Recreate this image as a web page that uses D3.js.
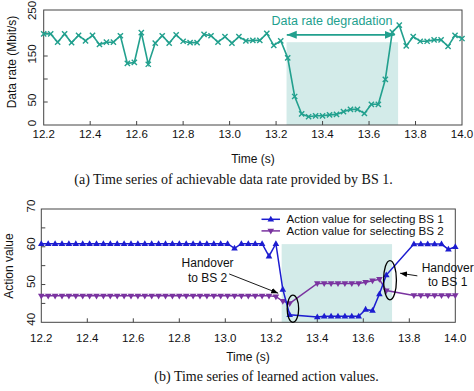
<!DOCTYPE html>
<html><head><meta charset="utf-8">
<script src="https://cdn.jsdelivr.net/npm/d3@7"></script>
<style>body{margin:0;background:#fff}svg{display:block}</style>
</head><body>
<script>
// ---------- data ----------
const rateTimes = [12.20,12.23,12.26,12.29,12.32,12.35,12.38,12.41,12.44,12.47,12.50,12.53,12.56,12.59,12.62,12.65,12.68,12.71,12.74,12.77,
  12.80,12.83,12.86,12.89,12.92,12.95,12.98,13.01,13.04,13.07,13.10,13.13,13.16,13.19,13.22,13.25,13.28,13.31,13.34,13.37,
  13.40,13.43,13.46,13.49,13.52,13.55,13.58,13.61,13.64,13.67,13.70,13.73,13.76,13.79,13.82,13.85,13.88,13.91,13.94,13.97,14.00];
const rateValues = [198,198,180,198,179,195,183,195,175,180,180,194,134,136,201,132,178,194,178,196,
  182,179,179,197,194,180,192,178,192,183,184,184,199,173,183,146,62,24,18,20,
  20,22,23,29,34,34,25,45,45,99,202,217,172,192,182,182,185,185,171,195,188];
const rateTicksY = [0,50,100,150,200,250];
const rateTickLabelsY = [0,50,150,250];
const timeTicks = [12.2,12.4,12.6,12.8,13.0,13.2,13.4,13.6,13.8,14.0];
const degradation = [13.245, 13.725];   // shaded interval (s)
const degradationTop = 180;            // Mbit/s
const arrowSpan = [13.246, 13.71]; const arrowLevel = 196;

const actTimes = [12.20,12.23,12.26,12.29,12.32,12.35,12.38,12.41,12.44,12.47,12.50,12.53,12.56,12.59,12.62,12.65,12.68,12.71,12.74,12.77,
  12.80,12.83,12.86,12.89,12.92,12.95,12.98,13.01,13.04,13.07,13.10,13.13,13.16,13.19,13.22,13.25,13.28,
  13.40,13.43,13.46,13.49,13.52,13.55,13.58,13.61,13.64,13.67,13.70,
  13.82,13.85,13.88,13.91,13.94,13.97,14.00];
const bs1Values = [60.8,60.8,60.8,60.8,60.8,60.8,60.8,60.8,60.8,60.8,60.8,60.8,60.8,60.8,60.8,60.8,60.8,60.8,60.8,60.8,
  60.8,60.8,60.8,60.8,60.8,60.8,60.8,60.8,59.6,60.8,60.8,60.8,60.8,57.5,60.8,48.7,42.0,
  41.4,41.6,41.6,41.6,41.6,41.6,41.6,43.4,43.1,47.5,52.5,
  60.7,60.7,60.7,60.7,60.7,59.3,60.0];
const bs2Values = [47.0,47.0,47.0,47.0,47.0,47.0,47.0,47.0,47.0,47.0,47.0,47.0,47.0,47.0,47.0,47.0,47.0,47.0,47.0,47.0,
  47.0,47.0,47.0,47.0,47.0,47.0,47.0,47.0,47.0,47.0,47.0,47.0,47.0,47.0,46.8,45.6,45.0,
  50.3,50.3,50.3,50.3,50.3,50.3,50.3,50.6,51.0,51.4,48.4,
  47.1,47.1,47.1,47.1,47.1,47.1,47.1];
const actTicksY = [45,50,55,60,65];
const actTickLabelsY = [40,50,60,70];
const actShadeTop = 60.7;
const seriesNames = ["Action value for selecting BS 1","Action value for selecting BS 2"];
const handovers = [ {t:13.294, v:43.6, rt:0.025, rv:3.6}, {t:13.716, v:51.15, rt:0.028, rv:5.2} ];

// ---------- setup ----------
const W = 474, H = 391;
const sans = "'Liberation Sans', Arial, sans-serif";
const serif = "'Liberation Serif', 'Times New Roman', serif";
const teal = "#22a08e", shade = "#d3ebe9", blue = "#1c1cd0", purple = "#7a33a0", axisCol = "#444";

const svg = d3.select("body").append("svg").attr("width", W).attr("height", H);
const defs = svg.append("defs");
defs.append("marker").attr("id", "headTeal").attr("viewBox","0 0 10 10").attr("refX",10).attr("refY",5)
    .attr("markerWidth",10).attr("markerHeight",10).attr("markerUnits","userSpaceOnUse").attr("orient","auto-start-reverse")
    .append("path").attr("d","M0,1L10,5L0,9Z").attr("fill",teal);
defs.append("marker").attr("id","headBlack").attr("viewBox","0 0 10 10").attr("refX",10).attr("refY",5)
    .attr("markerWidth",7).attr("markerHeight",7).attr("markerUnits","userSpaceOnUse").attr("orient","auto")
    .append("path").attr("d","M0,1L10,5L0,9Z").attr("fill","#000");

// ---------- panel (a) ----------
const xa = d3.scaleLinear().domain([12.2,14.0]).range([43.7,462]);
const ya = d3.scaleLinear().domain([0,250]).range([125,10]);
const ga = svg.append("g");

ga.append("rect").attr("x", xa(degradation[0])).attr("y", ya(degradationTop))
  .attr("width", xa(degradation[1])-xa(degradation[0])).attr("height", ya(0)-ya(degradationTop)).attr("fill", shade);

ga.append("rect").attr("x",xa(12.2)).attr("y",ya(250)).attr("width",xa(14)-xa(12.2)).attr("height",ya(0)-ya(250))
  .attr("fill","none").attr("stroke",axisCol).attr("stroke-width",1);

ga.selectAll(".xt").data(timeTicks.slice(1,-1)).join("line")
  .attr("x1",d=>xa(d)).attr("x2",d=>xa(d)).attr("y1",ya(0)).attr("y2",ya(0)-4).attr("stroke",axisCol);
ga.selectAll(".yt").data(rateTicksY.slice(1,-1)).join("line")
  .attr("x1",xa(12.2)).attr("x2",xa(12.2)+4).attr("y1",d=>ya(d)).attr("y2",d=>ya(d)).attr("stroke",axisCol);

ga.selectAll(".xl").data(timeTicks).join("text").attr("x",d=>xa(d)).attr("y",138)
  .attr("text-anchor","middle").attr("font-family",sans).attr("font-size","11.5px").attr("fill","#111")
  .text(d=>d.toFixed(1));
ga.selectAll(".yl").data(rateTickLabelsY).join("text")
  .attr("transform",d=>`translate(36,${Math.max(10.5, ya(d)-2)}) rotate(-90)`)
  .attr("text-anchor","middle").attr("font-family",sans).attr("font-size","11.5px").attr("fill","#111").text(d=>d);
ga.append("text").attr("x",253).attr("y",163).attr("text-anchor","middle").attr("font-family",sans)
  .attr("font-size","12px").attr("fill","#111").text("Time (s)");
ga.append("text").attr("transform","translate(16,62) rotate(-90)").attr("text-anchor","middle").attr("font-family",sans)
  .attr("font-size","12px").attr("fill","#111").text("Data rate (Mbit/s)");

const rateData = rateTimes.map((t,i)=>({t, v: rateValues[i]}));
ga.append("path").datum(rateData).attr("fill","none").attr("stroke",teal).attr("stroke-width",1.6)
  .attr("d", d3.line().x(d=>xa(d.t)).y(d=>ya(d.v)));
ga.selectAll(".mx").data(rateData).join("path")
  .attr("transform",d=>`translate(${xa(d.t)},${ya(d.v)})`)
  .attr("d","M-2.6,-2.6L2.6,2.6M-2.6,2.6L2.6,-2.6").attr("stroke",teal).attr("stroke-width",1.4).attr("fill","none");

ga.append("line").attr("x1",xa(arrowSpan[0])).attr("x2",xa(arrowSpan[1])).attr("y1",ya(arrowLevel)).attr("y2",ya(arrowLevel))
  .attr("stroke",teal).attr("stroke-width",1.6).attr("marker-start","url(#headTeal)").attr("marker-end","url(#headTeal)");
ga.append("text").attr("x",332).attr("y",25).attr("text-anchor","middle").attr("font-family",sans)
  .attr("font-size","12.5px").attr("fill",teal).text("Data rate degradation");

svg.append("text").attr("x",233.5).attr("y",183.5).attr("text-anchor","middle").attr("font-family",serif)
  .attr("font-size","14px").attr("fill","#111").text("(a) Time series of achievable data rate provided by BS 1.");

// ---------- panel (b) ----------
const xb = d3.scaleLinear().domain([12.2,14.0]).range([41.3,455.3]);
const yb = d3.scaleLinear().domain([40,70]).range([322.3,209]);
const gb = svg.append("g");

gb.append("rect").attr("x", xb(degradation[0])).attr("y", yb(actShadeTop))
  .attr("width", xb(degradation[1])-xb(degradation[0])).attr("height", yb(40)-yb(actShadeTop)).attr("fill", shade);
gb.append("rect").attr("x",xb(12.2)).attr("y",yb(70)).attr("width",xb(14)-xb(12.2)).attr("height",yb(40)-yb(70))
  .attr("fill","none").attr("stroke",axisCol).attr("stroke-width",1);
gb.selectAll(".xt").data(timeTicks.slice(1,-1)).join("line")
  .attr("x1",d=>xb(d)).attr("x2",d=>xb(d)).attr("y1",yb(40)).attr("y2",yb(40)-4).attr("stroke",axisCol);
gb.selectAll(".yt").data(actTicksY).join("line")
  .attr("x1",xb(12.2)).attr("x2",xb(12.2)+4).attr("y1",d=>yb(d)).attr("y2",d=>yb(d)).attr("stroke",axisCol);
gb.selectAll(".xl").data(timeTicks).join("text").attr("x",d=>xb(d)).attr("y",341.5)
  .attr("text-anchor","middle").attr("font-family",sans).attr("font-size","11.5px").attr("fill","#111")
  .text(d=>d.toFixed(1));
gb.selectAll(".yl").data(actTickLabelsY).join("text")
  .attr("transform",d=>`translate(34.5,${yb(d)-3}) rotate(-90)`)
  .attr("text-anchor","middle").attr("font-family",sans).attr("font-size","11.5px").attr("fill","#111").text(d=>d);
gb.append("text").attr("x",248).attr("y",360.5).attr("text-anchor","middle").attr("font-family",sans)
  .attr("font-size","12px").attr("fill","#111").text("Time (s)");
gb.append("text").attr("transform","translate(12.5,266) rotate(-90)").attr("text-anchor","middle").attr("font-family",sans)
  .attr("font-size","12px").attr("fill","#111").text("Action value");

const upTri = "M0,-3.6L3.3,2.2L-3.3,2.2Z", downTri = "M0,3.6L3.3,-2.2L-3.3,-2.2Z";
const series = [
  {name: seriesNames[0], vals: bs1Values, color: blue, sym: upTri},
  {name: seriesNames[1], vals: bs2Values, color: purple, sym: downTri}
];
series.slice().reverse().forEach(s=>{
  const data = actTimes.map((t,i)=>({t, v:s.vals[i]}));
  gb.append("path").datum(data).attr("fill","none").attr("stroke",s.color).attr("stroke-width",1.5)
    .attr("d", d3.line().x(d=>xb(d.t)).y(d=>yb(d.v)));
  gb.append("g").selectAll("path").data(data).join("path")
    .attr("transform",d=>`translate(${xb(d.t)},${yb(d.v)})`).attr("d",s.sym).attr("fill",s.color);
});

// ellipses
gb.selectAll(".ell").data(handovers).join("ellipse")
  .attr("cx",d=>xb(d.t)).attr("cy",d=>yb(d.v))
  .attr("rx",d=>xb(d.t+d.rt)-xb(d.t)).attr("ry",d=>yb(d.v-d.rv)-yb(d.v))
  .attr("fill","none").attr("stroke","#000").attr("stroke-width",1.3);

// annotations
const ann = [
  {lines:["Handover","to BS 2"], t:12.923, v1:54.6, v2:50.8, from:[13.017,52.8], to:[13.23,47.7]},
  {lines:["Handover","to BS 1"], t:13.967, v1:53.45, v2:49.6, from:[13.835,52.3], to:[13.76,53.0]}
];
ann.forEach(a=>{
  gb.append("text").attr("x",xb(a.t)).attr("y",yb(a.v1)).attr("text-anchor","middle").attr("font-family",sans)
    .attr("font-size","12px").attr("fill","#111").text(a.lines[0]);
  gb.append("text").attr("x",xb(a.t)).attr("y",yb(a.v2)).attr("text-anchor","middle").attr("font-family",sans)
    .attr("font-size","12px").attr("fill","#111").text(a.lines[1]);
  gb.append("line").attr("x1",xb(a.from[0])).attr("y1",yb(a.from[1])).attr("x2",xb(a.to[0])).attr("y2",yb(a.to[1]))
    .attr("stroke","#000").attr("stroke-width",0.9).attr("marker-end","url(#headBlack)");
});

// legend
const lg = gb.append("g");
series.forEach((s,i)=>{
  const y = 219.3 + i*11.6;
  lg.append("line").attr("x1",261.5).attr("x2",280).attr("y1",y).attr("y2",y).attr("stroke",s.color).attr("stroke-width",1.5);
  lg.append("path").attr("transform",`translate(270.8,${y})`).attr("d",s.sym).attr("fill",s.color);
  lg.append("text").attr("x",286.5).attr("y",y+4).attr("font-family",sans).attr("font-size","11.6px").attr("fill","#111").text(s.name);
});

svg.append("text").attr("x",266.5).attr("y",381).attr("text-anchor","middle").attr("font-family",serif)
  .attr("font-size","14px").attr("fill","#111").text("(b) Time series of learned action values.");
</script>
</body></html>
